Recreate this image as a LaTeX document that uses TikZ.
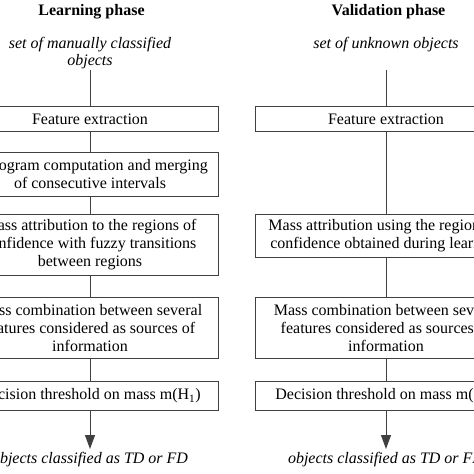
\documentclass[tikz,border=0pt]{standalone}
\usepackage{fontspec}
\setmainfont{Liberation Serif}
\usetikzlibrary{arrows.meta, positioning}

\tikzset{
  stage/.style={draw=black!75, line width=0.9pt, rectangle, anchor=north, align=center, inner sep=3pt},
  stageL/.style={stage, minimum width=256pt},
  stageR/.style={stage, minimum width=261pt},
  phase/.style={font=\fontsize{16}{18}\selectfont\bfseries, anchor=base},
  objs/.style={font=\fontsize{16}{17}\selectfont\itshape, align=center, anchor=north, inner sep=0pt},
  link/.style={draw=black!75, line width=0.9pt},
}

\begin{document}
\begin{tikzpicture}[x=1pt, y=-1pt, every node/.style={font=\fontsize{16}{18}\selectfont}]
\useasboundingbox (0,0) rectangle (474,474);
\clip (0,0) rectangle (474,474);

\node[phase] (learn) at (91.5,15) {Learning phase};
\node[phase] (valid) at (388.5,15) {Validation phase};

\node[objs] (inL) at (90,37) {set of manually classified\\objects};
\node[objs] (inR) at (386,37) {set of unknown objects};
\coordinate (startL) at (90,70);
\coordinate (startR) at (386,70);

\node[stageL, minimum height=25pt] (featL) at (90,106) {Feature extraction};
\node[stageL, minimum height=44pt] (hist) at (90,152) {Histogram computation and merging\\of consecutive intervals};
\node[stageL, minimum height=61pt] (massL) at (90,214) {Mass attribution to the regions of\\confidence with fuzzy transitions\\between regions};
\node[stageL, minimum height=61pt] (combL) at (90,297) {Mass combination between several\\features considered as sources of\\information};
\node[stageL, minimum height=29pt] (threshL) at (90,381) {Decision threshold on mass m(H\textsubscript{1})};
\node[objs, inner sep=3pt] (outL) at (90,449) {objects classified as TD or FD};

\node[stageR, minimum height=25pt] (featR) at (386,106) {Feature extraction};
\node[stageR, minimum height=43pt] (massR) at (386,214) {Mass attribution using the regions of\\confidence obtained during learning};
\node[stageR, minimum height=61pt] (combR) at (386,297) {Mass combination between several\\features considered as sources of\\information};
\node[stageR, minimum height=29pt] (threshR) at (386,381) {Decision threshold on mass m(H\textsubscript{1})};
\node[objs, inner sep=3pt] (outR) at (386,449) {objects classified as TD or FD};

\draw[link]
  (startL) -- (featL)
  (featL) -- (hist)
  (hist) -- (massL)
  (massL) -- (combL)
  (combL) -- (threshL);
\draw[link, -{Triangle[length=14pt, width=10pt]}] (threshL) -- (outL);

\draw[link]
  (startR) -- (featR)
  (featR) -- (massR)
  (massR) -- (combR)
  (combR) -- (threshR);
\draw[link, -{Triangle[length=14pt, width=10pt]}] (threshR) -- (outR);
\end{tikzpicture}
\end{document}
